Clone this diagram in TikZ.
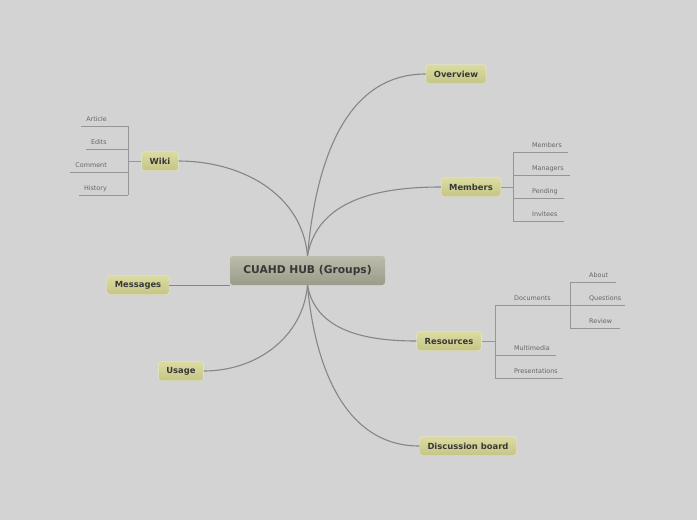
\documentclass[tikz,border=0pt]{standalone}
\usepackage{fontspec}
\setmainfont{DejaVu Sans}
\usetikzlibrary{positioning}
\definecolor{bg}{HTML}{D3D3D3}
\definecolor{nodetop}{HTML}{DCDCA2}
\definecolor{nodebot}{HTML}{C5C587}
\definecolor{hubtop}{HTML}{BCBCAC}
\definecolor{hubbot}{HTML}{9B9B89}
\definecolor{branchgray}{HTML}{868686}
\definecolor{twiggray}{HTML}{969696}
\definecolor{leaftext}{HTML}{666666}
\definecolor{ink}{HTML}{383838}

\begin{document}
\begin{tikzpicture}[x=1pt,y=-1pt,
    hub/.style={rounded corners=3pt,top color=hubtop,bottom color=hubbot,text=ink,
      font=\bfseries\fontsize{10.7}{12}\selectfont,minimum width=155pt,minimum height=29pt},
    topic/.style={rounded corners=3pt,top color=nodetop,bottom color=nodebot,text=ink,
      draw=nodetop!60!white,line width=0.4pt,font=\bfseries\fontsize{8.4}{9}\selectfont,
      minimum height=19pt,inner xsep=8pt},
    leaf/.style={text=leaftext,font=\fontsize{6.4}{7}\selectfont,inner xsep=0pt,
      inner ysep=3pt,text height=4.7pt,text depth=1.5pt},
    branch/.style={draw=branchgray,line width=1.1pt},
    twig/.style={draw=twiggray,line width=0.8pt}]
  \fill[bg] (0,0) rectangle (697,520);
  % main topics
  \node[hub] (hub) at (307.5,270.5) {CUAHD HUB (Groups)};
  \node[topic] (ov)    at (456,74)  {Overview};
  \node[topic] (mem)   at (471,187) {Members};
  \node[topic] (res)   at (449,341) {Resources};
  \node[topic] (disc)  at (468,446) {Discussion board};
  \node[topic] (wiki)  at (160,161) {Wiki};
  \node[topic] (mess)  at (138,285) {Messages};
  \node[topic] (usage) at (181,371) {Usage};
  \path[branch]
    (hub.north) edge [out=85,in=180]  (ov.west)
                edge [out=80,in=180]  (mem.west)
                edge [out=95,in=0]    (wiki.east)
    (hub.south) edge [out=-80,in=180] (res.west)
                edge [out=-85,in=180] (disc.west)
                edge [out=-95,in=0]   (usage.east);
  \draw[branch,line width=0.9pt] (mess.east) -- (hub.west |- mess.east);
  % wiki
  \node[leaf,anchor=south east] (w1) at (107,126) {Article};
  \node[leaf] (w2) [below=23pt of w1.south east,anchor=south east] {Edits};
  \node[leaf] (w3) [below=23pt of w2.south east,anchor=south east] {Comment};
  \node[leaf] (w4) [below=23pt of w3.south east,anchor=south east] {History};
  \coordinate (wbus) at (128,161);
  \draw[twig] (wiki.west) -- (wbus);
  \draw[twig] (wbus |- w1.south) -- (wbus |- w4.south);
  \draw[twig] (wbus |- w1.south) -- ([xshift=-5pt]w1.south west);
  \draw[twig] (wbus |- w2.south) -- ([xshift=-5pt]w2.south west);
  \draw[twig] (wbus |- w3.south) -- ([xshift=-5pt]w3.south west);
  \draw[twig] (wbus |- w4.south) -- ([xshift=-5pt]w4.south west);
  % members
  \node[leaf,anchor=south west] (m1) at (532,152) {Members};
  \node[leaf] (m2) [below=23pt of m1.south west,anchor=south west] {Managers};
  \node[leaf] (m3) [below=23pt of m2.south west,anchor=south west] {Pending};
  \node[leaf] (m4) [below=23pt of m3.south west,anchor=south west] {Invitees};
  \coordinate (mbus) at (513,187);
  \draw[twig] (mem.east) -- (mbus);
  \draw[twig] (mbus |- m1.south) -- (mbus |- m4.south);
  \draw[twig] (mbus |- m1.south) -- ([xshift=6pt]m1.south east);
  \draw[twig] (mbus |- m2.south) -- ([xshift=6pt]m2.south east);
  \draw[twig] (mbus |- m3.south) -- ([xshift=6pt]m3.south east);
  \draw[twig] (mbus |- m4.south) -- ([xshift=6pt]m4.south east);
  % resources
  \node[leaf,anchor=south west] (r1) at (514,305) {Documents};
  \node[leaf] (r2) [below=50pt of r1.south west,anchor=south west] {Multimedia};
  \node[leaf] (r3) [below=23pt of r2.south west,anchor=south west] {Presentations};
  \coordinate (rbus) at (495,341);
  \draw[twig] (res.east) -- (rbus);
  \draw[twig] (rbus |- r1.south) -- (rbus |- r3.south);
  \draw[twig] (rbus |- r2.south) -- ([xshift=6pt]r2.south east);
  \draw[twig] (rbus |- r3.south) -- ([xshift=5pt]r3.south east);
  % documents
  \node[leaf,anchor=south west] (d1) at (589,282) {About};
  \node[leaf] (d2) [below=23pt of d1.south west,anchor=south west] {Questions};
  \node[leaf] (d3) [below=23pt of d2.south west,anchor=south west] {Review};
  \coordinate (dbus) at (570,305);
  \draw[twig] (rbus |- r1.south) -- (dbus);
  \draw[twig] (dbus |- d1.south) -- (dbus |- d3.south);
  \draw[twig] (dbus |- d1.south) -- ([xshift=8pt]d1.south east);
  \draw[twig] (dbus |- d2.south) -- ([xshift=4pt]d2.south east);
  \draw[twig] (dbus |- d3.south) -- ([xshift=8pt]d3.south east);
\end{tikzpicture}
\end{document}
